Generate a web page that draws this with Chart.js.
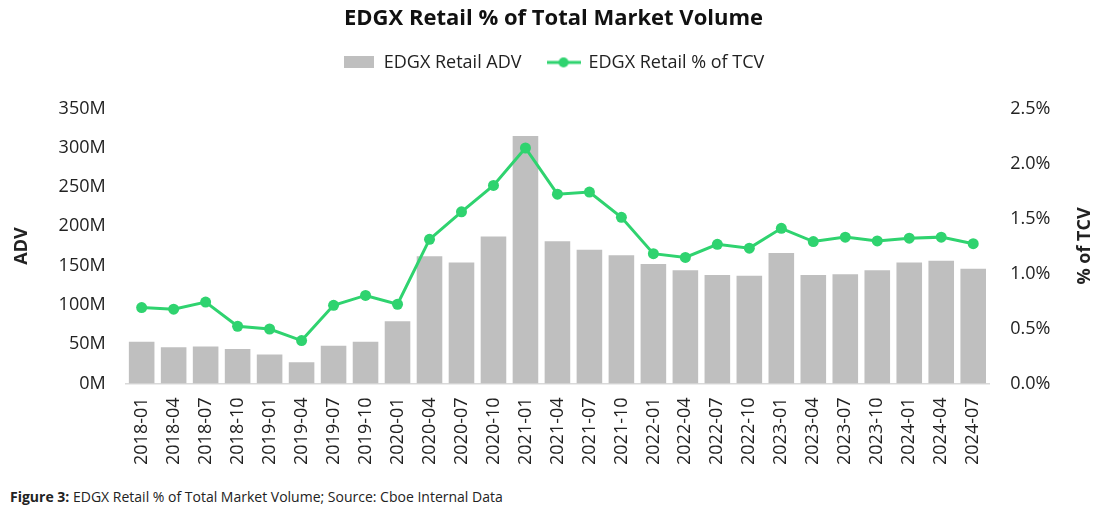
<!DOCTYPE html>
<html>
<head>
<meta charset="utf-8">
<script src="https://cdn.jsdelivr.net/npm/chart.js@4"></script>
<style>
  body { margin: 0; background: #fff; }
  #wrap { position: relative; width: 1100px; height: 517px; }
  #footer { position: absolute; left: 10px; top: 487px; font: 14px "Open Sans"; color: #222; }
</style>
</head>
<body>
<div id="wrap">
  <canvas id="chart" width="1100" height="482"></canvas>
  <div id="footer"><b>Figure 3:</b> EDGX Retail % of Total Market Volume; Source: Cboe Internal Data</div>
</div>
<script>
// quarterly data, ADV in millions of shares
const quarters = ["2018-01","2018-04","2018-07","2018-10","2019-01","2019-04","2019-07","2019-10",
  "2020-01","2020-04","2020-07","2020-10","2021-01","2021-04","2021-07","2021-10",
  "2022-01","2022-04","2022-07","2022-10","2023-01","2023-04","2023-07","2023-10",
  "2024-01","2024-04","2024-07"];
const retailAdv = [53, 46, 47, 44, 37, 27, 48, 53, 79, 162, 154, 187, 315, 181, 170, 163,
  152, 144, 138, 137, 166, 138, 139, 144, 154, 156, 146];
const retailPctTcv = [0.69, 0.675, 0.74, 0.52, 0.495, 0.39, 0.71, 0.80, 0.72, 1.31, 1.56, 1.80,
  2.14, 1.72, 1.74, 1.51, 1.18, 1.145, 1.265, 1.23, 1.41, 1.29, 1.33, 1.295, 1.32, 1.33, 1.27];
const advTicks = [0, 50, 100, 150, 200, 250, 300, 350];

const GREEN = "#2fd36f";
const GREY = "#bfbfbf";
const FONT = "'Open Sans'";

// legend swatches
function swatch(w, h, draw) {
  let c = document.createElement("canvas");
  c.width = w; c.height = h;
  draw(c.getContext("2d"));
  return c;
}
const barSwatch = swatch(30, 12, ctx => { ctx.fillStyle = GREY; ctx.fillRect(0, 0, 30, 12); });
const lineSwatch = swatch(34, 12, ctx => {
  ctx.strokeStyle = GREEN; ctx.lineWidth = 3;
  ctx.beginPath(); ctx.moveTo(0, 6); ctx.lineTo(34, 6); ctx.stroke();
  ctx.fillStyle = GREEN; ctx.beginPath(); ctx.arc(17, 6, 5, 0, Math.PI * 2); ctx.fill();
});

// extra room between legend and plot
const legendGap = {
  id: "legendGap",
  beforeInit(chart) {
    let fit = chart.legend.fit;
    chart.legend.fit = function() {
      fit.call(this);
      this.height += 27;
    };
  }
};

// right axis title reads bottom-to-top, so draw it by hand
const rightTitle = {
  id: "rightTitle",
  afterDraw(chart) {
    let ctx = chart.ctx;
    let area = chart.chartArea;
    ctx.save();
    ctx.translate(1085, (area.top + area.bottom) / 2);
    ctx.rotate(-Math.PI / 2);
    ctx.font = "bold 18px " + FONT;
    ctx.fillStyle = "#222";
    ctx.textAlign = "center";
    ctx.textBaseline = "middle";
    ctx.fillText("% of TCV", 0, 0);
    ctx.restore();
  }
};

new Chart(document.getElementById("chart"), {
  data: {
    labels: quarters,
    datasets: [
      {
        type: "line",
        label: "EDGX Retail % of TCV",
        data: retailPctTcv,
        yAxisID: "y1",
        borderColor: GREEN,
        backgroundColor: GREEN,
        borderWidth: 3,
        pointRadius: 5.5,
        pointBackgroundColor: GREEN,
        pointBorderWidth: 0,
        tension: 0,
        order: 0
      },
      {
        type: "bar",
        label: "EDGX Retail ADV",
        data: retailAdv,
        yAxisID: "y",
        backgroundColor: GREY,
        barPercentage: 0.8,
        categoryPercentage: 1,
        order: 1
      }
    ]
  },
  options: {
    responsive: false,
    animation: false,
    layout: { padding: { left: 7, right: 0, top: 0, bottom: 11 } },
    plugins: {
      title: {
        display: true,
        text: "EDGX Retail % of Total Market Volume",
        color: "#111",
        font: { family: FONT, size: 22, weight: "bold" },
        padding: { top: 6, bottom: -5 }
      },
      legend: {
        reverse: true,
        labels: {
          usePointStyle: true,
          pointStyleWidth: 32,
          color: "#222",
          font: { family: FONT, size: 18 },
          padding: 26,
          generateLabels(chart) {
            let items = Chart.defaults.plugins.legend.labels.generateLabels(chart);
            items.forEach(it => { it.pointStyle = it.datasetIndex === 1 ? barSwatch : lineSwatch; });
            return items;
          }
        }
      },
      tooltip: { enabled: false }
    },
    scales: {
      x: {
        grid: { display: false },
        border: { display: true, color: "#d9d9d9", width: 1.5 },
        ticks: {
          minRotation: 90, maxRotation: 90, autoSkip: false,
          color: "#222", font: { family: FONT, size: 18 }, padding: 6
        }
      },
      y: {
        position: "left",
        min: 0, max: 350,
        grid: { display: false },
        border: { display: false },
        afterBuildTicks(scale) { scale.ticks = advTicks.map(v => ({ value: v })); },
        ticks: {
          color: "#222", font: { family: FONT, size: 18 }, padding: 12,
          callback: v => v + "M"
        },
        title: {
          display: true, text: "ADV", color: "#222",
          font: { family: FONT, size: 18, weight: "bold" }, padding: { bottom: 14 }
        }
      },
      y1: {
        position: "right",
        min: 0, max: 2.5,
        grid: { display: false },
        border: { display: false },
        ticks: {
          stepSize: 0.5,
          color: "#222", font: { family: FONT, size: 18 }, padding: 13,
          callback: v => v.toFixed(1) + "%"
        },
        title: {
          display: true, text: "% of TCV", color: "rgba(0,0,0,0)",
          font: { family: FONT, size: 18, weight: "bold" }, padding: { top: 11 }
        }
      }
    }
  },
  plugins: [legendGap, rightTitle]
});
</script>
</body>
</html>
